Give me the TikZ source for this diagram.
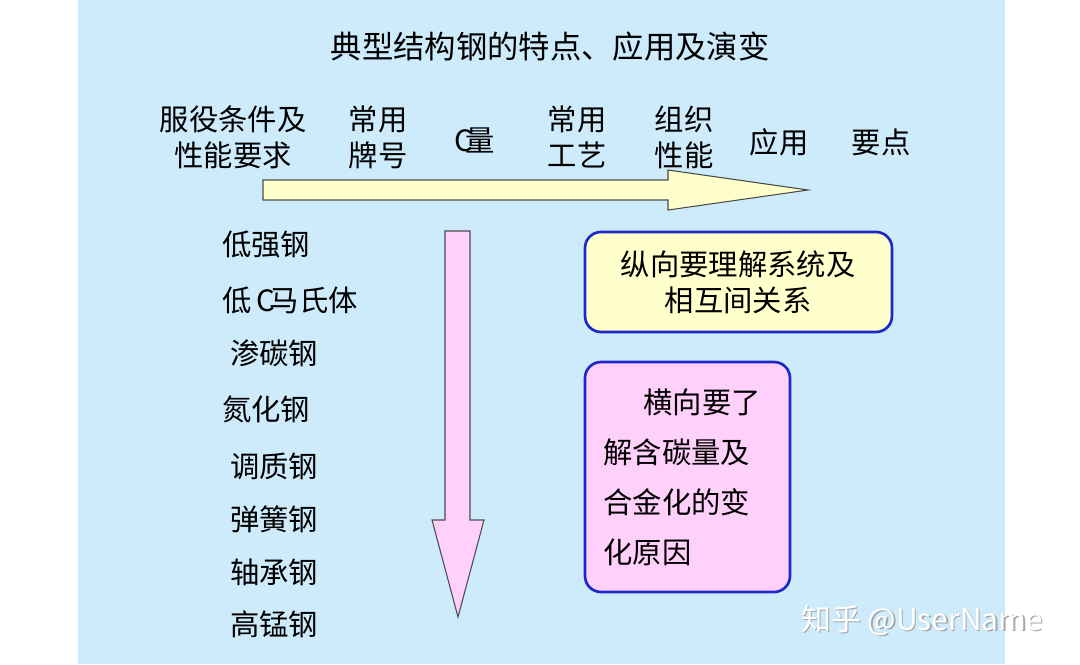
\documentclass[tikz,border=0pt]{standalone}
\usepackage{fontspec}
\setmainfont{Noto Sans CJK SC}
\newfontfamily\wm{Noto Sans CJK SC}
\definecolor{bgblue}{HTML}{CDEBFA}
\definecolor{ylw}{HTML}{FFFFCC}
\definecolor{pnk}{HTML}{FFD0FA}
\definecolor{bdr}{HTML}{1E28C8}
\tikzset{lbl/.style={font=\fontsize{22}{27}\selectfont, inner sep=0pt, align=center},
  side/.style={font=\fontsize{22}{27}\selectfont, inner sep=0pt, anchor=west},
  bx/.style={draw=bdr, line width=2pt, rounded corners=12pt}}
\begin{document}
\begin{tikzpicture}[x=0.75pt,y=-0.75pt]
\useasboundingbox (0,0) rectangle (1080,664);
\fill[white] (0,0) rectangle (1080,664);
\fill[bgblue] (78,0) rectangle (1005,664);
\node[lbl, font=\fontsize{23.5}{28}\selectfont] (title) at (550,47) {典型结构钢的特点、应用及演变};
\node[lbl] (a1) at (233,137) {服役条件及\\性能要求};
\node[lbl] (a2) at (378,137) {常用\\牌号};
\node[lbl] (a3) at (475,140) {C\kern-6pt 量};
\node[lbl] (a4) at (577,137) {常用\\工艺};
\node[lbl] (a5) at (684,137) {组织\\性能};
\node[lbl] (a6) at (779,142) {应用};
\node[lbl] (a7) at (881,142) {要点};
\draw[gray!60!black, fill=ylw, line width=0.8pt] (263,180) -- (668,180) -- (668,170) -- (808,190) -- (668,210) -- (668,200) -- (263,200) -- cycle;
\draw[gray!60!black, fill=pnk, line width=0.8pt] (445,231) -- (470,231) -- (470,520) -- (484,520) -- (458,617) -- (432,520) -- (445,520) -- cycle;
\node[side] (b1) at (222,244) {低强钢};
\node[side] (b2) at (222,300) {低\,C\kern-4pt 马氏体};
\node[side] (b3) at (230,353) {渗碳钢};
\node[side] (b4) at (222,409) {氮化钢};
\node[side] (b5) at (230,466) {调质钢};
\node[side] (b6) at (230,519) {弹簧钢};
\node[side] (b7) at (230,572) {轴承钢};
\node[side] (b8) at (230,624) {高锰钢};
\draw[bx, fill=ylw] (585,232) rectangle (892,332);
\node[lbl] (c1) at (738,282) {纵向要理解系统及\\相互间关系};
\draw[bx, fill=pnk] (585,362) rectangle (790,592);
\node[lbl, align=left, font=\fontsize{22}{37.5}\selectfont] (c2) at (682,477) {\hspace{30pt}横向要了\\解含碳量及\\合金化的变\\化原因};
\node[font=\wm\fontsize{22.5}{24}\selectfont, text=gray!70, inner sep=0pt] (wms) at (923.5,621.5) {知乎 @UserName};
\node[font=\wm\fontsize{22.5}{24}\selectfont, text=white, inner sep=0pt] (wm) at (922,620) {知乎 @UserName};
\end{tikzpicture}
\end{document}
